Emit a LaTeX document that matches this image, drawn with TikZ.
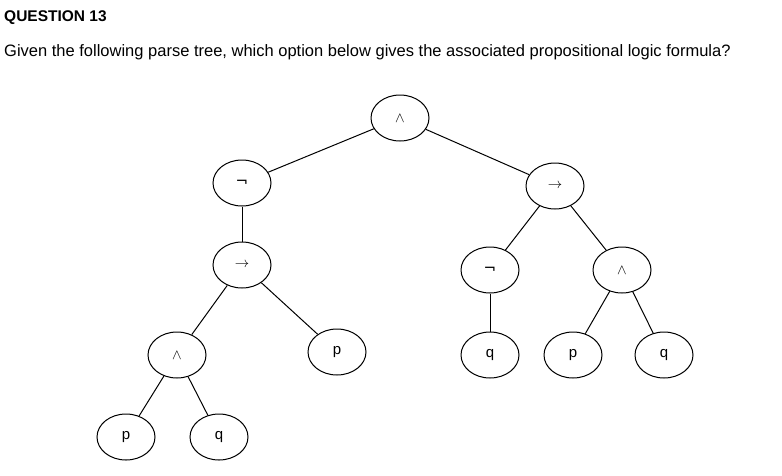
\documentclass[tikz,border=0pt]{standalone}
\usepackage{fontspec}
\setmainfont{Liberation Sans}
\newfontfamily\symf{DejaVu Sans}
\usetikzlibrary{shapes.geometric}
\begin{document}
\begin{tikzpicture}[x=1pt,y=-1pt,
  tn/.style={draw,ellipse,line width=1pt,minimum width=58pt,minimum height=46pt,inner sep=0pt,font=\fontsize{15}{17}\selectfont},
  ed/.style={draw,line width=1pt}]
\useasboundingbox (0,0) rectangle (782,475);
\node[anchor=west,inner sep=0pt,font=\bfseries\fontsize{15.5}{18}\selectfont] (t) at (4,18) {QUESTION 13};
\node[anchor=west,inner sep=0pt,font=\fontsize{16.5}{19}\selectfont] (q) at (4,52) {Given the following parse tree, which option below gives the associated propositional logic formula?};
\node[tn] (r) at (400,118) {$\wedge$};
\node[tn] (n1) at (242,183) {\symf ¬};
\node[tn] (i1) at (242,265) {$\rightarrow$};
\node[tn] (a1) at (177,355) {$\wedge$};
\node[tn] (p1) at (337,352) {p};
\node[tn] (p2) at (126,437) {p};
\node[tn] (q2) at (219,437) {q};
\node[tn] (i2) at (555,186) {$\rightarrow$};
\node[tn] (n2) at (490,270) {\symf ¬};
\node[tn] (a2) at (622,270) {$\wedge$};
\node[tn] (q3) at (490,355) {q};
\node[tn] (p3) at (573,355) {p};
\node[tn] (q4) at (664,355) {q};
\draw[ed] (r)--(n1); \draw[ed] (r)--(i2);
\draw[ed] (n1)--(i1); \draw[ed] (i1)--(a1); \draw[ed] (i1)--(p1);
\draw[ed] (a1)--(p2); \draw[ed] (a1)--(q2);
\draw[ed] (i2)--(n2); \draw[ed] (i2)--(a2);
\draw[ed] (n2)--(q3); \draw[ed] (a2)--(p3); \draw[ed] (a2)--(q4);
\end{tikzpicture}
\end{document}
